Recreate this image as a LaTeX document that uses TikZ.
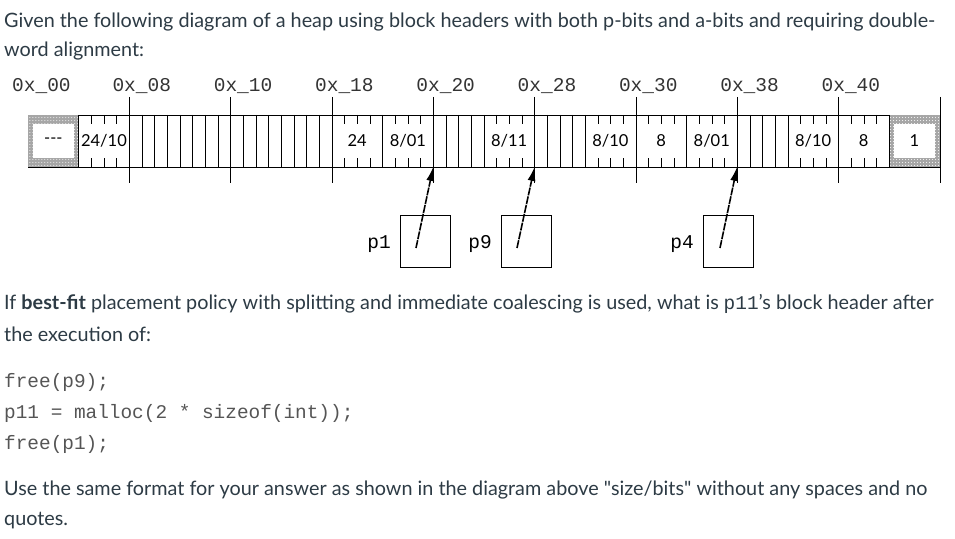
\documentclass[tikz,border=0pt]{standalone}
\usepackage{fontspec}
\setmainfont{Lato}
\setmonofont{Liberation Mono}
\usetikzlibrary{patterns,arrows.meta}
\definecolor{txt}{HTML}{2D3B45}
\definecolor{codec}{HTML}{555555}
\begin{document}
\begin{tikzpicture}[x=1bp,y=-1bp,
  para/.style={anchor=base west,inner sep=0,font=\fontsize{19.8bp}{22bp}\selectfont,text=txt},
  code/.style={anchor=base west,inner sep=0,font=\ttfamily\fontsize{19.4bp}{22bp}\selectfont,text=codec},
  addr/.style={anchor=base west,inner sep=0,font=\ttfamily\fontsize{19.5bp}{22bp}\selectfont,text=black!80},
  cell/.style={inner sep=0,font=\fontsize{16.5bp}{18bp}\selectfont},
  ptr/.style={inner sep=0,font=\ttfamily\fontsize{19.5bp}{22bp}\selectfont},
  pbox/.style={draw,minimum width=50bp,minimum height=52bp,inner sep=0},
  arr/.style={-{Latex[length=14pt,width=8pt]},line width=1.6pt,dash pattern=on 8pt off 1pt}]
\useasboundingbox (0,0) rectangle (955,539);
\fill[white] (0,0) rectangle (955,539);
\node[para] (t1) at (4,28) {Given the following diagram of a heap using block headers with both p-bits and a-bits and requiring double-};
\node[para] (t2) at (4,57) {word alignment:};
% heap strip
\def\xo{28}\def\w{50.65}\def\ya{115}\def\yb{167}
\draw[thin] (\xo,\ya) rectangle ({\xo+18*\w},\yb);
% shaded ends
\foreach \k in {0,17}{
  \fill[black!35] ({\xo+\k*\w},\ya) rectangle ({\xo+(\k+1)*\w},\yb);
  \fill[pattern=dots,pattern color=white] ({\xo+\k*\w},\ya) rectangle ({\xo+(\k+1)*\w},\yb);
  \fill[white] ({\xo+\k*\w+5},\ya+9) rectangle ({\xo+(\k+1)*\w-5},\yb-9);
}
% word boundaries
\foreach \k in {1,...,17} \draw ({\xo+\k*\w},\ya) -- ({\xo+\k*\w},\yb);
% payload words: full byte lines
\foreach \k in {2,3,4,5,8,10,14} \foreach \b in {1,2,3}
  \draw ({\xo+\k*\w+\b*\w/4},\ya) -- ({\xo+\k*\w+\b*\w/4},\yb);
% header words: short ticks
\foreach \k in {1,6,7,9,11,12,13,15,16} \foreach \b in {1,2,3}{
  \draw ({\xo+\k*\w+\b*\w/4},\ya) -- ++(0,9);
  \draw ({\xo+\k*\w+\b*\w/4},\yb) -- ++(0,-9);}
% cell labels
\foreach \k/\t/\n in {0/{-}{-}{-}/c0,1/24\slash10/c1,6/24/c6,7/8\slash01/c7,9/8\slash11/c9,11/8\slash10/c11,12/8/c12,13/8\slash01/c13,15/8\slash10/c15,16/8/c16,17/1/c17}
  \node[cell] (\n) at ({\xo+(\k+0.5)*\w},141) {\t};
% address ticks and labels
\node[addr] (a0) at (12,92) {0x\_00};
\foreach \i/\l in {1/08,2/10,3/18,4/20,5/28,6/30,7/38,8/40}{
  \draw ({\xo+2*\i*\w},97) -- ({\xo+2*\i*\w},183);
  \node[addr] (a\l) at ({\xo+2*\i*\w-17},92) {0x\_\l};}
\draw ({\xo+18*\w},97) -- ({\xo+18*\w},183);
\coordinate (h20) at ({\xo+8*\w},\yb);
\coordinate (h28) at ({\xo+10*\w},\yb);
\coordinate (h38) at ({\xo+14*\w},\yb);
% pointers
\node[pbox] (b1) at (425,241) {};
\node[pbox] (b9) at (526,241) {};
\node[pbox] (b4) at (728,241) {};
\node[ptr,anchor=base east] (l1) at (391,249) {p1};
\node[ptr,anchor=base east] (l9) at (492,249) {p9};
\node[ptr,anchor=base east] (l4) at (694,249) {p4};
\coordinate (s1) at (416,248);
\coordinate (s9) at (517,248);
\coordinate (s4) at (720,248);
\draw[arr] (s1) -- (h20);
\draw[arr] (s9) -- (h28);
\draw[arr] (s4) -- (h38);
% question
\node[para] (t3) at (4,310) {If \textbf{best-fit} placement policy with splitting and immediate coalescing is used, what is {\ttfamily\fontsize{19.4bp}{22bp}\selectfont p11}'s block header after};
\node[para] (t4) at (4,342) {the execution of:};
\node[code] (c1) at (4,387) {free(p9);};
\node[code] (c2) at (4,418) {p11 = malloc(2 * sizeof(int));};
\node[code] (c3) at (4,449) {free(p1);};
\node[para] (t5) at (4,495) {Use the same format for your answer as shown in the diagram above \textquotedbl size/bits\textquotedbl{} without any spaces and no};
\node[para] (t6) at (4,525) {quotes.};
\end{tikzpicture}
\end{document}
